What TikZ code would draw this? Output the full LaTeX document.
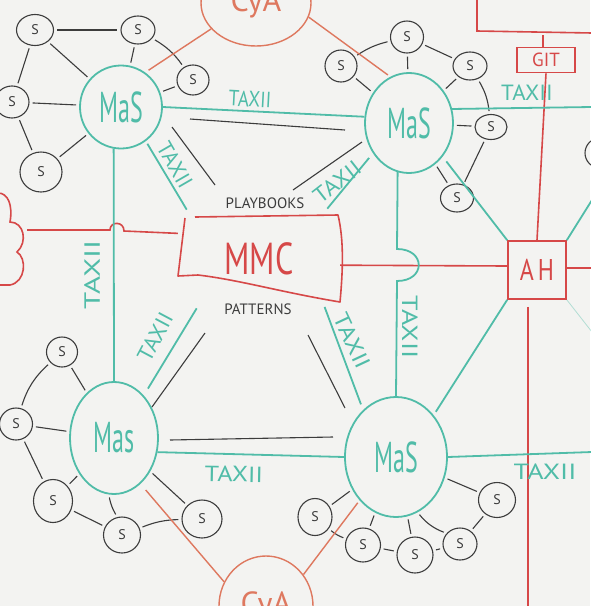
\documentclass[tikz,border=0pt]{standalone}
\usepackage{fontspec}
\setmainfont{PT Sans}
\usetikzlibrary{shapes.geometric,calc}
\definecolor{bg}{RGB}{243,243,241}
\definecolor{tl}{RGB}{80,188,168}
\definecolor{rd}{RGB}{214,72,72}
\definecolor{sal}{RGB}{222,120,95}
\definecolor{ink}{RGB}{60,60,60}
\newcommand\taxlab[1]{\scalebox{#1}[1.1]{TAXII}}
\begin{document}
\begin{tikzpicture}[x=1pt,y=-1pt,
 mas/.style={ellipse,draw=tl,line width=1.8pt,inner sep=0pt,text=tl,font=\fontsize{24}{24}\selectfont},
 snode/.style={ellipse,draw=ink,line width=1.1pt,inner sep=0pt,minimum width=34pt,minimum height=32pt,font=\fontsize{14}{14}\selectfont,text=ink},
 tline/.style={draw=tl,line width=1.8pt},
 rline/.style={draw=rd,line width=1.6pt},
 cline/.style={draw=sal,line width=1.4pt},
 kline/.style={draw=ink,line width=1.1pt},
 sl/.style={kline,shorten <=3pt,shorten >=3pt},
 tax/.style={text=tl,font=\fontsize{20}{20}\selectfont,inner sep=0pt},
 lbl/.style={text=ink,font=\fontsize{15}{15}\selectfont,inner sep=0pt},
 ]
\fill[bg] (0,0) rectangle (590,606);
\useasboundingbox (0,0) rectangle (590,606);

% main nodes
\node[mas,minimum width=82pt,minimum height=83pt] (m1) at (121,107) {\scalebox{1}[1.8]{MaS}};
\node[mas,minimum width=88pt,minimum height=100pt] (m2) at (409,123) {\scalebox{1}[1.8]{MaS}};
\node[mas,minimum width=88pt,minimum height=112pt] (m3) at (114,438) {\scalebox{1}[1.8]{Mas}};
\node[mas,minimum width=102pt,minimum height=120pt] (m4) at (396,457) {\scalebox{1}[1.8]{MaS}};

% S nodes
\node[snode,minimum width=37pt,minimum height=31pt] (a1) at (35,30) {S};
\node[snode,minimum width=34pt,minimum height=28pt] (a2) at (138,30) {S};
\node[snode,minimum width=32pt,minimum height=30pt] (a3) at (193,80) {S};
\node[snode,minimum width=34pt,minimum height=32pt] (a4) at (12,102) {S};
\node[snode,minimum width=42pt,minimum height=40pt] (a5) at (41,172) {S};

\node[snode,minimum width=33pt,minimum height=32pt] (b1) at (407,37) {S};
\node[snode,minimum width=32pt,minimum height=32pt] (b2) at (341,66) {S};
\node[snode,minimum width=34pt,minimum height=28pt] (b3) at (470,66) {S};
\node[snode,minimum width=32pt,minimum height=25pt] (b4) at (491,127) {S};
\node[snode,minimum width=33pt,minimum height=28pt] (b5) at (457,198) {S};
\node[snode,minimum width=30pt,minimum height=30pt] (b6) at (600,153) {};

\node[snode,minimum width=31pt,minimum height=30pt] (c1) at (62,352) {S};
\node[snode,minimum width=33pt,minimum height=32pt] (c2) at (16,424) {S};
\node[snode,minimum width=39pt,minimum height=43pt] (c3) at (53,501) {S};
\node[snode,minimum width=37pt,minimum height=36pt] (c4) at (122,535) {S};
\node[snode,minimum width=40pt,minimum height=38pt] (c5) at (202,519) {S};

\node[snode,minimum width=34pt,minimum height=37pt] (d1) at (315,517) {S};
\node[snode,minimum width=35pt,minimum height=34pt] (d2) at (363,545) {S};
\node[snode,minimum width=36pt,minimum height=36pt] (d3) at (415,555) {S};
\node[snode,minimum width=34pt,minimum height=32pt] (d4) at (460,544) {S};
\node[snode,minimum width=37pt,minimum height=35pt] (d5) at (497,500) {S};

% S links
\draw[sl] (a1) -- (a2);
\draw[sl] (a1) -- (m1);
\draw[sl] (a1) -- (a4);
\draw[sl] (a2) -- (m1);
\draw[sl] (a2) to[bend left=12] (a3);
\draw[sl] (a3) -- (m1);
\draw[sl] (a4) -- (m1);
\draw[sl] (a4) -- (a5);
\draw[sl] (a5) -- (m1);

\draw[sl] (b2) to[bend left=10] (b1);
\draw[sl] (b1) -- (m2);
\draw[sl] (b1) -- (b3);
\draw[sl] (b3) -- (m2);
\draw[sl] (b3) to[bend left=12] (b4);
\draw[sl] (b4) -- (m2);
\draw[sl] (b4) -- (b5);
\draw[sl] (b5) -- (m2);
\draw[sl] (b2) -- (m2);

\draw[sl] (c1) -- (m3);
\draw[sl] (c1) to[bend right=15] (c2);
\draw[sl] (c2) -- (m3);
\draw[sl] (c2) -- (c3);
\draw[sl] (c3) -- (m3);
\draw[sl] (c3) -- (c4);
\draw[sl] (c4) to[bend left=10] (m3);
\draw[sl] (c4) to[bend left=10] (c5);
\draw[sl] (c5) -- (m3);

\draw[sl] (d1) -- (m4);
\draw[sl] (d1) to[bend right=10] (d2);
\draw[sl] (d2) -- (m4);
\draw[sl] (d2) -- (d3);
\draw[sl] (d3) -- (m4);
\draw[sl] (d3) -- (d4);
\draw[sl] (d4) to[bend left=15] (m4);
\draw[sl] (d4) -- (d5);
\draw[sl] (d5) -- (m4);

% CyA ellipses
\node[ellipse,draw=sal,line width=1.4pt,minimum width=110pt,minimum height=86pt,inner sep=0pt,text=sal,font=\fontsize{32}{32}\selectfont] (cyt) at (256,3) {CyA};
\node[ellipse,draw=sal,line width=1.4pt,minimum width=94pt,minimum height=100pt,inner sep=0pt,text=sal,font=\fontsize{32}{32}\selectfont] (cyb) at (266,606) {CyA};

% MMC
\node[minimum width=162pt,minimum height=88pt,inner sep=0pt,text=rd,font=\fontsize{32}{32}\selectfont] (mmc) at (259,259) {\scalebox{1}[1.4]{MMC}};
\draw[rline,line join=round] (185,218) -- (178,276) -- (198,275)
  .. controls (240,280) and (280,292) .. (340,302)
  .. controls (343,270) and (344,240) .. (338,215) -- (195,217);
\node[lbl] (pb) at (265,203) {PLAYBOOKS};
\node[lbl] (pt) at (258,309) {PATTERNS};

% AH, GIT
\node[draw=rd,line width=1.6pt,minimum width=58pt,minimum height=58pt,inner sep=0pt,text=rd,font=\fontsize{24}{24}\selectfont] (ah) at (537,270) {\scalebox{1}[1.25]{A\,H}};
\node[draw=rd,line width=1.6pt,minimum width=58pt,minimum height=25pt,inner sep=0pt,text=rd,font=\fontsize{19}{19}\selectfont] (git) at (546,60) {GIT};
\coordinate (bx1) at (477,-3);
\coordinate (bx2) at (477,31);
\coordinate (bx3) at (592,33);
\draw[rline] (bx1) -- (bx2) -- (bx3);
\coordinate (tk) at (543,35);
\draw[rline] (tk) -- ([xshift=-3pt]git.north);
\draw[rline] (git.south) -- (ah.north);
\coordinate (rb) at (528,608);
\draw[rline,shorten <=7pt] (ah.south -| rb) -- (rb);
\coordinate (rr) at (592,268);
\draw[rline] ([yshift=2pt]ah.east) -- (rr);

% cloud
\draw[rline] (-2,193) .. controls (8,193) and (13,205) .. (10,222)
  .. controls (24,222) and (28,242) .. (17,252)
  .. controls (27,258) and (26,282) .. (10,285) -- (-2,285);
\coordinate (cl) at (27,230);
\coordinate (hp1) at (110,230);
\coordinate (hp2) at (124,231);
\draw[rline] (cl) -- (hp1) .. controls (110,221) and (124,221) .. (hp2)
  -- ($(mmc.north west)!0.21!(mmc.south west)$);
\draw[rline] ($(mmc.north east)!0.57!(mmc.south east)$) -- ([yshift=4pt]ah.west);

% CyA links
\draw[cline,shorten <=4pt] (m1.55) -- (cyt.-150);
\draw[cline,shorten >=3pt] (cyt.-15) -- (m2.112);
\draw[cline,shorten <=8pt] (m3.-60) -- (cyb.150);
\draw[cline,shorten <=3pt] (m4.-130) -- (cyb.40);

% TAXII links
\draw[tline] (m1.east) -- (m2.172);
\node[tax,rotate=-3] (x1) at (250,99) {\taxlab{0.95}};
\draw[tline,shorten <=3pt,shorten >=6pt] (m1.-54) -- ([xshift=12pt]mmc.north west);
\node[tax,rotate=-60] (x2) at (175,165) {\taxlab{1.1}};
\draw[tline,shorten <=6pt,shorten >=8pt] (m2.-140) -- ([xshift=-18pt]mmc.north east);
\node[tax,rotate=38] (x3) at (337,182) {\taxlab{1.2}};
\draw[tline] (m1.260) -- (m3.north);
\node[tax,rotate=90] (x4) at (92,275) {\taxlab{1.55}};
\coordinate (hq1) at (397,249);
\coordinate (hq2) at (397,281);
\draw[tline] (m2.257) -- (hq1) .. controls (426,249) and (426,281) .. (hq2) -- (m4.north);
\node[tax,rotate=-90] (x5) at (410,327) {\taxlab{1.4}};
\draw[tline,shorten <=6pt,shorten >=8pt] ([xshift=22pt]mmc.south west) -- (m3.55);
\node[tax,rotate=62] (x6) at (155,337) {\taxlab{1.15}};
\draw[tline,shorten <=4pt,shorten >=6pt] ([xshift=-17pt]mmc.south east) -- (m4.125);
\node[tax,rotate=-65] (x7) at (352,341) {\taxlab{1.3}};
\draw[tline] (m3.-18) -- (m4.west);
\node[tax,rotate=-1] (x8) at (234,474) {\taxlab{1.3}};
\coordinate (tr1) at (592,452);
\draw[tline] (m4.east) -- (tr1);
\node[tax] (x9) at (545,472) {\taxlab{1.4}};
\coordinate (tr2) at (592,107);
\draw[tline] (m2.18) -- (tr2);
\node[tax] (x10) at (527,93) {\taxlab{1.15}};
\draw[tline,shorten <=6pt] (m2.-45) -- (ah.north west);
\coordinate (tr3) at (592,200);
\draw[tline] (ah.north east) -- (tr3);
\draw[tline,shorten >=4pt] (ah.south west) -- (m4.48);
\coordinate (tr4) at (592,332);
\draw[tline,line width=0.8pt,opacity=0.4] (ah.south east) -- (tr4);

% black parallel strokes
\coordinate (k1a) at (190,119); \coordinate (k1b) at (345,130);
\coordinate (k2a) at (172,127); \coordinate (k2b) at (215,185);
\coordinate (k3a) at (362,142); \coordinate (k3b) at (293,190);
\coordinate (k4a) at (205,333); \coordinate (k4b) at (152,407);
\coordinate (k5a) at (308,335); \coordinate (k5b) at (345,408);
\coordinate (k6a) at (170,440); \coordinate (k6b) at (333,437);
\draw[kline] (k1a) -- (k1b);
\draw[kline] (k2a) -- (k2b);
\draw[kline] (k3a) -- (k3b);
\draw[kline] (k4a) -- (k4b);
\draw[kline] (k5a) -- (k5b);
\draw[kline] (k6a) -- (k6b);
\end{tikzpicture}
\end{document}
